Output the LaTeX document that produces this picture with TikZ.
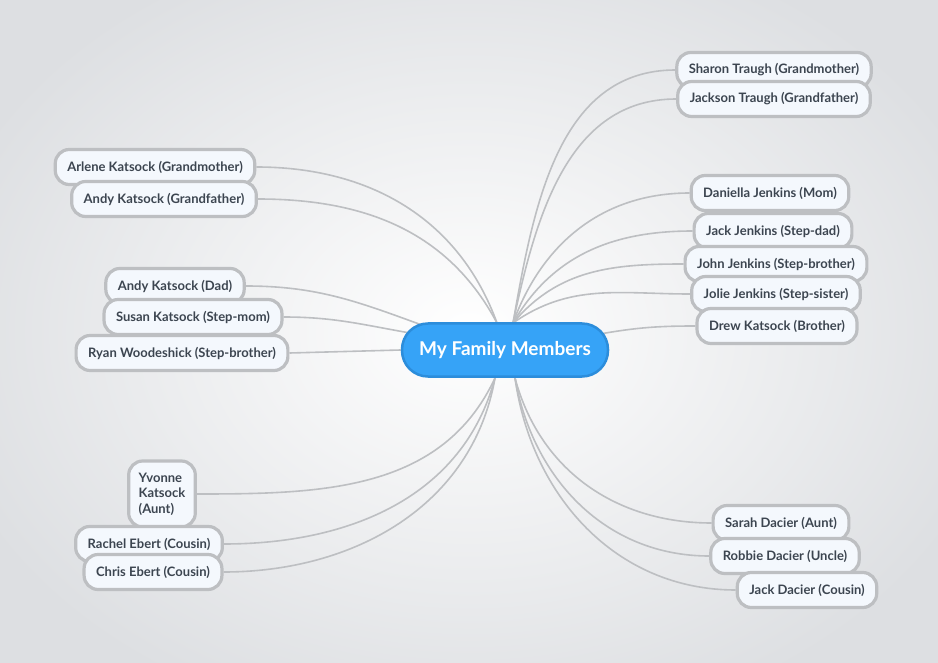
\documentclass[tikz,border=0pt]{standalone}
\usepackage{fontspec}
\setmainfont{Lato}
\usetikzlibrary{backgrounds}
\definecolor{edgec}{HTML}{BDBFC2}
\definecolor{leaff}{HTML}{F4F8FD}
\definecolor{txtc}{HTML}{3C4550}
\definecolor{ctrf}{HTML}{36A3F7}
\definecolor{ctrd}{HTML}{2C8DDB}
\definecolor{bgout}{HTML}{DDDFE2}
\tikzset{
 leaf/.style={draw=edgec,line width=3.2pt,fill=leaff,rounded corners=14pt,text=txtc,
   font=\fontsize{13}{15.5}\selectfont\bfseries,inner xsep=12pt,minimum height=35pt,align=center},
 ctr/.style={draw=ctrd,line width=2.5pt,fill=ctrf,rounded corners=26pt,text=white,
   font=\fontsize{19}{21}\selectfont\bfseries,minimum width=206pt,minimum height=53pt},
 con/.style={draw=edgec,line width=1.6pt}
}
\begin{document}
\begin{tikzpicture}[x=1pt,y=1pt]
\useasboundingbox (0,0) rectangle (938,-663);
\node[ctr] (c) at (505,-350) {My Family Members};
\node[leaf] (sh) at (774,-70) {Sharon Traugh (Grandmother)};
\node[leaf] (ja) at (774,-99) {Jackson Traugh (Grandfather)};
\node[leaf] (ar) at (155,-167) {Arlene Katsock (Grandmother)};
\node[leaf] (ag) at (164,-199) {Andy Katsock (Grandfather)};
\node[leaf] (ad) at (175,-286) {Andy Katsock (Dad)};
\node[leaf] (su) at (193,-317) {Susan Katsock (Step-mom)};
\node[leaf] (ry) at (182,-353) {Ryan Woodeshick (Step-brother)};
\node[leaf] (da) at (770,-193) {Daniella Jenkins (Mom)};
\node[leaf] (jj) at (773,-231) {Jack Jenkins (Step-dad)};
\node[leaf] (jo) at (776,-264) {John Jenkins (Step-brother)};
\node[leaf] (jl) at (776,-294) {Jolie Jenkins (Step-sister)};
\node[leaf] (dr) at (777,-326) {Drew Katsock (Brother)};
\node[leaf,inner xsep=10pt,minimum height=66pt,align=left] (yv) at (162,-494) {Yvonne\\Katsock\\(Aunt)};
\node[leaf] (ra) at (149,-544) {Rachel Ebert (Cousin)};
\node[leaf] (ch) at (153,-572) {Chris Ebert (Cousin)};
\node[leaf] (sa) at (781,-523) {Sarah Dacier (Aunt)};
\node[leaf] (ro) at (785,-556) {Robbie Dacier (Uncle)};
\node[leaf] (jd) at (807,-590) {Jack Dacier (Cousin)};
\begin{scope}[on background layer]
\shade[inner color=white,outer color=bgout] (-80,80) rectangle (1018,-743);
\coordinate (ru) at (513,-323);
\coordinate (lu) at (497,-323);
\coordinate (rd) at (515,-378);
\coordinate (ld) at (495,-378);
\draw[con] (ru) to[out=80,in=180] (sh.west);
\draw[con] (ru) to[out=78,in=180] (ja.west);
\draw[con] (ru) to[out=70,in=180] (da.west);
\draw[con] (ru) to[out=60,in=180] (jj.west);
\draw[con] (ru) to[out=50,in=180] (jo.west);
\draw[con] (ru) to[out=35,in=180] (jl.west);
\draw[con] (600,-334) to[out=10,in=180] (dr.west);
\draw[con] (lu) to[out=110,in=0] (ar.east);
\draw[con] (lu) to[out=118,in=0] (ag.east);
\draw[con] (430,-328) to[out=160,in=0] (ad.east);
\draw[con] (410,-333) to[out=170,in=0] (su.east);
\draw[con] (c.west) -- (ry.east);
\draw[con] (ld) to[out=-115,in=0] (yv.east);
\draw[con] (ld) to[out=-105,in=0] (ra.east);
\draw[con] (ld) to[out=-100,in=0] (ch.east);
\draw[con] (rd) to[out=-75,in=180] (sa.west);
\draw[con] (rd) to[out=-80,in=180] (ro.west);
\draw[con] (rd) to[out=-82,in=180] (jd.west);
\end{scope}
\end{tikzpicture}
\end{document}
